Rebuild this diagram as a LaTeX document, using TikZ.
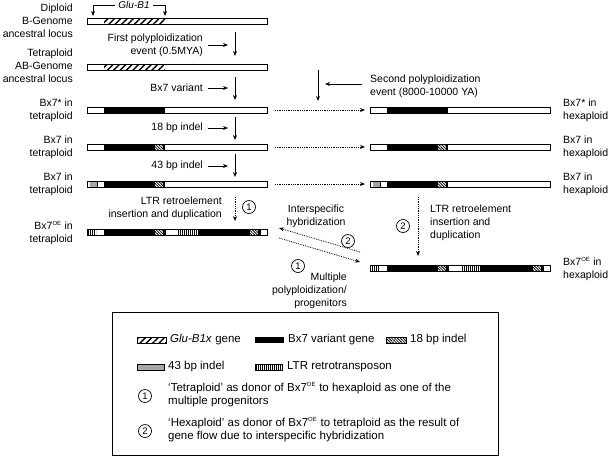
\documentclass[tikz,border=0pt]{standalone}
\usepackage{fontspec}
\setmainfont{Liberation Sans}
\usetikzlibrary{patterns.meta,arrows.meta}
\tikzset{
  lbl/.style={font=\fontsize{10.5}{13}\selectfont, inner sep=0pt},
  lblL/.style={lbl, align=right, anchor=east},
  lblR/.style={lbl, align=left, anchor=west},
  leg/.style={font=\fontsize{11.5}{13.5}\selectfont, inner sep=0pt, align=left, anchor=west},
  arr/.style={-{Stealth[length=5pt,width=4pt]}, line width=0.8pt},
  darr/.style={arr, densely dotted},
  glu/.style={pattern={Lines[angle=45,distance=4.5pt,line width=1.4pt]}},
  ind/.style={pattern={Lines[angle=-45,distance=2pt,line width=0.8pt]}},
  ltr/.style={pattern={Lines[angle=90,distance=2pt,line width=0.9pt]}},
  gry/.style={fill=gray!70},
  num/.style={circle, draw, line width=0.7pt, minimum size=13pt, inner sep=0pt, font=\fontsize{9.5}{9.5}\selectfont},
}
\newcommand{\supOE}{\textsuperscript{\fontsize{6}{6}\selectfont OE}}
% \seg{y}{x1}{x2}{style}
\newcommand{\seg}[4]{\fill[#4] (#2,#1-3) rectangle (#3,#1+3);}
\newcommand{\barbox}[3]{\draw[line width=0.8pt] (#2,#1-3) rectangle (#2+180,#1+3); \coordinate (#3) at (#2+90,#1);}
\begin{document}
\begin{tikzpicture}[x=1pt,y=-1pt]
\useasboundingbox (0,0) rectangle (609,464);

% left labels
\node[lblL] (l1) at (73,21) {Diploid\\B-Genome\\ancestral locus};
\node[lblL] (l2) at (73,66) {Tetraploid\\AB-Genome\\ancestral locus};
\node[lblL] (l3) at (73,110) {Bx7* in\\tetraploid};
\node[lblL] (l4) at (73,147) {Bx7 in\\tetraploid};
\node[lblL] (l5) at (73,184) {Bx7 in\\tetraploid};
\node[lblL] (l6) at (73,233) {Bx7\supOE{} in\\tetraploid};
% right labels
\node[lblR] (r3) at (563,110) {Bx7* in\\hexaploid};
\node[lblR] (r4) at (563,147) {Bx7 in\\hexaploid};
\node[lblR] (r5) at (563,184) {Bx7 in\\hexaploid};
\node[lblR] (r6) at (563,269) {Bx7\supOE{} in\\hexaploid};

% bars left
\seg{21}{104}{165}{glu}\barbox{21}{87}{b1}
\seg{67}{104}{165}{glu}\barbox{67}{87}{b2}
\seg{110}{104}{165}{black}\barbox{110}{87}{b3}
\seg{147}{104}{155}{black}\seg{147}{155}{163}{ind}\seg{147}{163}{165}{black}\barbox{147}{87}{b4}
\seg{184}{90}{97}{gry}\draw (97,181)--(97,187);\seg{184}{104}{155}{black}\seg{184}{155}{163}{ind}\seg{184}{163}{165}{black}\barbox{184}{87}{b5}
% OE left
\seg{232}{88}{96}{ltr}\seg{232}{104}{155}{black}\seg{232}{155}{163}{ind}\seg{232}{163}{166}{black}
\seg{232}{178}{198}{ltr}\seg{232}{198}{250}{black}\seg{232}{250}{258}{ind}\seg{232}{258}{261}{black}\barbox{232}{87}{b6}
% bars right
\seg{110}{387}{448}{black}\barbox{110}{370}{c3}
\seg{147}{387}{438}{black}\seg{147}{438}{446}{ind}\seg{147}{446}{448}{black}\barbox{147}{370}{c4}
\seg{184}{373}{380}{gry}\draw (380,181)--(380,187);\seg{184}{387}{438}{black}\seg{184}{438}{446}{ind}\seg{184}{446}{448}{black}\barbox{184}{370}{c5}
\seg{268}{371}{379}{ltr}\seg{268}{387}{438}{black}\seg{268}{438}{446}{ind}\seg{268}{446}{449}{black}
\seg{268}{461}{481}{ltr}\seg{268}{481}{533}{black}\seg{268}{533}{541}{ind}\seg{268}{541}{544}{black}\barbox{268}{370}{c6}

% Glu-B1 bracket
\node[lbl, font=\fontsize{10}{10}\selectfont\itshape] (glu) at (134,5) {Glu-B1};
\draw[arr] ([xshift=-3pt]glu.west) -- (93,5) -- (93,16);
\draw[arr] ([xshift=3pt]glu.east) -- (165,5) -- (165,16);

% vertical steps
\coordinate (v1a) at (235,32); \coordinate (v1b) at (235,56);
\coordinate (v2a) at (235,77); \coordinate (v2b) at (235,100);
\coordinate (v3a) at (235,117); \coordinate (v3b) at (235,140);
\coordinate (v4a) at (235,154); \coordinate (v4b) at (235,177);
\draw[arr] (v1a) -- (v1b); \draw[arr] (v2a) -- (v2b);
\draw[arr] (v3a) -- (v3b); \draw[arr] (v4a) -- (v4b);
\node[lblL] (t1) at (203,45) {First polyploidization\\event (0.5MYA)};
\node[lblL] (t2) at (203,88) {Bx7 variant};
\node[lblL] (t3) at (203,128) {18 bp indel};
\node[lblL] (t4) at (203,166) {43 bp indel};
\coordinate (h1) at (228,45); \coordinate (h2) at (228,88);
\coordinate (h3) at (228,128); \coordinate (h4) at (228,166);
\draw[arr] (208,45) -- (h1);
\draw[arr] ([xshift=5pt]t2.east) -- (h2);
\draw[arr] ([xshift=5pt]t3.east) -- (h3);
\draw[arr] ([xshift=5pt]t4.east) -- (h4);

% LTR step left
\draw[darr] (235,197) -- (235,221);
\node[num] (n1a) at (249,207) {1};
\node[lblL] (t5) at (222,208) {LTR retroelement\\insertion and duplication};

% horizontal transfers
\draw[darr] (275,110) -- (365,110);
\draw[darr] (275,147) -- (365,147);
\draw[darr] (275,184) -- (365,184);

% second polyploidization
\draw[arr] (318,70) -- (318,101);
\node[lblR] (t6) at (370,86) {Second polyploidization\\event (8000-10000 YA)};
\draw[arr] (362,84) -- (325,84);

% LTR step right
\draw[darr] (418,197) -- (418,256);
\node[num] (n2a) at (403,226) {2};
\node[lblR] (t7) at (430,223) {LTR retroelement\\insertion and\\duplication};

% exchange between species
\draw[darr] (360,252) -- (279,228);
\draw[darr] (279,238) -- (360,262);
\node[num] (n2b) at (348,241) {2};
\node[num] (n1b) at (298,266) {1};
\node[lbl, align=center] (t8) at (316,216) {Interspecific\\hybridization};
\node[lbl, align=right, anchor=north east] (t9) at (347,273) {Multiple\\polyploidization/\\progenitors};

% legend
\draw[line width=0.8pt] (112,312) rectangle (498,455);
\fill[glu] (137,337) rectangle (166,343); \draw[line width=0.6pt] (137,337) rectangle (166,343);
\node[leg] (k1) at (170,340) {\textit{Glu-B1x} gene};
\fill[black] (255,337) rectangle (284,343);
\node[leg] (k2) at (288,340) {Bx7 variant gene};
\fill[ind] (386,337) rectangle (406,343); \draw[line width=0.6pt] (386,337) rectangle (406,343);
\node[leg] (k3) at (410,340) {18 bp indel};
\fill[gry] (137,364) rectangle (164,370); \draw[line width=0.6pt] (137,364) rectangle (164,370);
\node[leg] (k4) at (168,367) {43 bp indel};
\fill[ltr] (255,364) rectangle (282,370); \draw[line width=0.6pt] (255,364) rectangle (282,370);
\node[leg] (k5) at (287,367) {LTR retrotransposon};
\node[num] (k6) at (145,396) {1};
\node[leg] (k7) at (168,395) {`Tetraploid' as donor of Bx7\supOE{} to hexaploid as one of the\\multiple progenitors};
\node[num] (k8) at (145,431) {2};
\node[leg] (k9) at (168,430) {`Hexaploid' as donor of Bx7\supOE{} to tetraploid as the result of\\gene flow due to interspecific hybridization};
\end{tikzpicture}
\end{document}
